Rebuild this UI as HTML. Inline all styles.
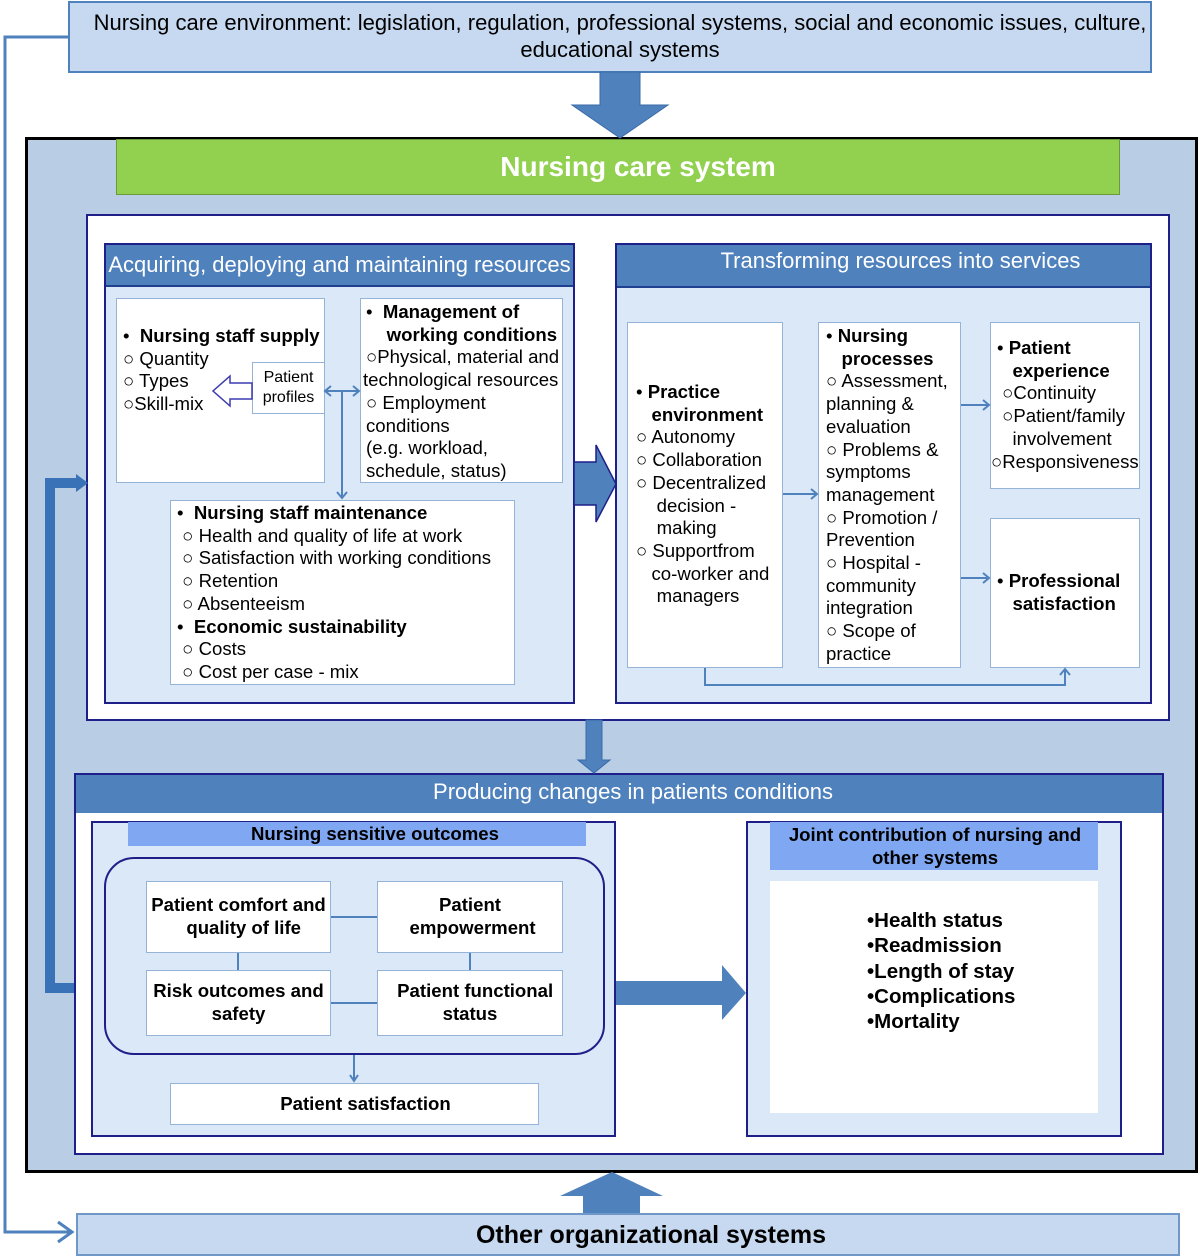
<!DOCTYPE html>
<html><head><style>
*{box-sizing:border-box;margin:0;padding:0}
body{width:1200px;height:1257px;position:relative;background:#fff;font-family:"Liberation Sans",Arial,sans-serif;color:#000;overflow:hidden}
.a{position:absolute}
.wb{background:#fff;border:1px solid #95b3d7}
.t{font-size:18.6px;line-height:22.7px;white-space:nowrap}
b{font-weight:bold}
.hdr{background:#4f81bd;color:#fff;font-size:22px;text-align:center;border-bottom:2px solid #1f3f8f;white-space:nowrap}
.c{text-align:center}
</style></head><body>
<svg class="a" style="left:0;top:0" width="1200" height="1257">
<polyline points="68,37 5,37 5,1232 70,1232" fill="none" stroke="#4f81bd" stroke-width="3"/>
<polyline points="58,1222 72,1232 58,1242" fill="none" stroke="#4f81bd" stroke-width="3"/>
</svg>
<div class="a" style="left:68px;top:1px;width:1084px;height:72px;background:#c6d9f0;border:2px solid #4f81bd"></div>
<div class="a t c" style="left:70px;top:9px;width:1100px;font-size:22px;line-height:27px;white-space:normal">Nursing care environment: legislation, regulation, professional systems, social and economic issues, culture,<br>educational systems</div>
<div class="a" style="left:25px;top:137px;width:1173px;height:1036px;background:#b9cde4;border:3px solid #000"></div>
<svg class="a" style="left:0;top:0" width="1200" height="1257">
<polygon points="600,72 640,72 640,105 668,105 620,138 572,105 600,105" fill="#4f81bd" stroke="#3a6aa8"/>
<polygon points="583,1213 640,1213 640,1196 663,1196 612,1172 560,1196 583,1196" fill="#4f81bd"/>
</svg>
<div class="a" style="left:116px;top:139px;width:1004px;height:56px;background:#92d050;border:1px solid #6a9a3a;color:#fff;font-size:28px;font-weight:bold;text-align:center;line-height:54px;padding-left:40px">Nursing care system</div>
<div class="a" style="left:86px;top:214px;width:1084px;height:507px;background:#fff;border:2px solid #1f1f8a"></div>
<!-- left section -->
<div class="a" style="left:104px;top:243px;width:471px;height:461px;background:#dbe8f8;border:2px solid #1f1f8a"></div>
<div class="a hdr" style="left:106px;top:245px;width:467px;height:42px;line-height:40px">Acquiring, deploying and maintaining resources</div>
<div class="a wb t" style="left:116px;top:298px;width:209px;height:185px;padding:26px 0 0 6px">•&nbsp; <b>Nursing staff supply</b><br>○ Quantity<br>○ Types<br>○Skill-mix</div>
<div class="a wb t c" style="left:252px;top:362px;width:73px;height:52px;font-size:16px;line-height:20px;padding-top:5px">Patient<br>profiles</div>
<div class="a wb t" style="left:360px;top:298px;width:203px;height:185px;padding:2px 0 0 5px">•&nbsp; <b>Management of<br>&nbsp;&nbsp;&nbsp;&nbsp;working conditions</b><br>○Physical, material and<br><span style="margin-left:-3px">technological resources</span><br>○ Employment<br>conditions<br>(e.g. workload,<br>schedule, status)</div>
<div class="a wb t" style="left:170px;top:500px;width:345px;height:185px;padding:1px 0 0 6px">•&nbsp; <b>Nursing staff maintenance</b><br>&nbsp;○ Health and quality of life at work<br>&nbsp;○ Satisfaction with working conditions<br>&nbsp;○ Retention<br>&nbsp;○ Absenteeism<br>•&nbsp; <b>Economic sustainability</b><br>&nbsp;○ Costs<br>&nbsp;○ Cost per case - mix</div>
<!-- right section -->
<div class="a" style="left:615px;top:243px;width:537px;height:461px;background:#dbe8f8;border:2px solid #1f1f8a"></div>
<div class="a hdr" style="left:617px;top:245px;width:533px;height:43px;line-height:32px;padding-left:34px">Transforming resources into services</div>
<div class="a wb t" style="left:627px;top:322px;width:156px;height:346px;padding:58px 0 0 8px">• <b>Practice<br>&nbsp;&nbsp;&nbsp;environment</b><br>○ Autonomy<br>○ Collaboration<br>○ Decentralized<br>&nbsp;&nbsp;&nbsp;&nbsp;decision -<br>&nbsp;&nbsp;&nbsp;&nbsp;making<br>○ Supportfrom<br>&nbsp;&nbsp;&nbsp;co-worker and<br>&nbsp;&nbsp;&nbsp;&nbsp;managers</div>
<div class="a wb t" style="left:818px;top:322px;width:143px;height:346px;padding:2px 0 0 7px">• <b>Nursing<br>&nbsp;&nbsp;&nbsp;processes</b><br>○ Assessment,<br>planning &amp;<br>evaluation<br>○ Problems &amp;<br>symptoms<br>management<br>○ Promotion /<br>Prevention<br>○ Hospital -<br>community<br>integration<br>○ Scope of<br>practice</div>
<div class="a wb t" style="left:990px;top:322px;width:150px;height:167px;padding:14px 0 0 6px">• <b>Patient<br>&nbsp;&nbsp;&nbsp;experience</b><br>&nbsp;○Continuity<br>&nbsp;○Patient/family<br>&nbsp;&nbsp;&nbsp;involvement<br><span style="margin-left:-6px">○Responsiveness</span></div>
<div class="a wb t" style="left:990px;top:518px;width:150px;height:150px;padding:51px 0 0 6px">• <b>Professional<br>&nbsp;&nbsp;&nbsp;satisfaction</b></div>
<!-- producing -->
<div class="a" style="left:74px;top:773px;width:1090px;height:382px;background:#fff;border:2px solid #1f1f8a"></div>
<div class="a hdr" style="left:76px;top:775px;width:1086px;height:38px;line-height:33px;border-bottom:none;padding-left:28px">Producing changes in patients conditions</div>
<div class="a" style="left:91px;top:821px;width:525px;height:316px;background:#dbe8f8;border:2px solid #1f1f8a"></div>
<div class="a c" style="left:128px;top:822px;width:458px;height:24px;background:#80a8f2;font-size:18.6px;font-weight:bold;line-height:24px;padding-left:36px">Nursing sensitive outcomes</div>
<div class="a" style="left:104px;top:857px;width:501px;height:198px;border:2px solid #1f1f8a;border-radius:30px"></div>
<div class="a wb t c" style="left:146px;top:881px;width:185px;height:72px;padding-top:12px"><b>Patient comfort and<br>&nbsp;&nbsp;quality of life</b></div>
<div class="a wb t c" style="left:377px;top:881px;width:186px;height:72px;padding-top:12px"><b>Patient<br>&nbsp;empowerment</b></div>
<div class="a wb t c" style="left:146px;top:970px;width:185px;height:66px;padding-top:9px"><b>Risk outcomes and<br>safety</b></div>
<div class="a wb t c" style="left:377px;top:970px;width:186px;height:66px;padding-top:9px"><b>&nbsp;&nbsp;Patient functional<br>status</b></div>
<div class="a wb t c" style="left:170px;top:1083px;width:369px;height:42px;padding-top:9px;padding-left:22px"><b>Patient satisfaction</b></div>
<div class="a" style="left:746px;top:821px;width:376px;height:316px;background:#dbe8f8;border:2px solid #1f1f8a"></div>
<div class="a c" style="left:770px;top:822px;width:328px;height:48px;background:#80a8f2;font-size:18.6px;font-weight:bold;line-height:23px;padding-top:1px;padding-left:2px;white-space:nowrap">Joint contribution of nursing and<br>other systems</div>
<div class="a" style="left:770px;top:881px;width:328px;height:232px;background:#fff;font-size:20.5px;font-weight:bold;line-height:25.3px;padding:27px 0 0 97px;white-space:nowrap">•Health status<br>•Readmission<br>•Length of stay<br>•Complications<br>•Mortality</div>
<div class="a" style="left:76px;top:1213px;width:1104px;height:43px;background:#c6d9f0;border:2px solid #6f97c8;font-size:25px;font-weight:bold;text-align:center;line-height:40px;padding-left:46px">Other organizational systems</div>
<svg class="a" style="left:0;top:0" width="1200" height="1257">
<g stroke="#4f81bd" stroke-width="2" fill="none">
<line x1="325" y1="391" x2="359" y2="391"/>
<polyline points="331,386 325,391 331,396"/><polyline points="353,386 359,391 353,396"/>
<line x1="342" y1="391" x2="342" y2="498"/><polyline points="337,492 342,498 347,492"/>
<polyline points="705,668 705,685 1065,685 1065,670"/><polyline points="1060,675 1065,669 1070,675"/>
<line x1="783" y1="494" x2="817" y2="494"/><polyline points="811,489 817,494 811,499"/>
<line x1="961" y1="405" x2="989" y2="405"/><polyline points="983,400 989,405 983,410"/>
<line x1="961" y1="578" x2="989" y2="578"/><polyline points="983,573 989,578 983,583"/>
<line x1="331" y1="917" x2="377" y2="917"/><line x1="331" y1="1003" x2="377" y2="1003"/>
<line x1="238" y1="953" x2="238" y2="970"/><line x1="470" y1="953" x2="470" y2="970"/>
<line x1="354" y1="1055" x2="354" y2="1081"/><polyline points="350,1075 354,1081 358,1075"/>
</g>
<polygon points="252,383 230,383 230,376 213,391 230,406 230,399 252,399" fill="#fff" stroke="#3b3bb0" stroke-width="1.5"/>
<polygon points="574,462 596,462 596,445 616,484 596,522 596,505 574,505" fill="#4f81bd" stroke="#1f1f8a" stroke-width="1.5"/>
<polygon points="586,720 602,720 602,760 610,760 594,773 578,760 586,760" fill="#4f81bd" stroke="#3a6aa8"/>
<polygon points="616,981 722,981 722,965 746,993 722,1020 722,1005 616,1005" fill="#4f81bd"/>
<polyline points="74,988 50,988 50,483 80,483" fill="none" stroke="#3a72b8" stroke-width="10"/>
<polygon points="76,474 88,483 76,492" fill="#3a72b8"/>
</svg>
</body></html>
